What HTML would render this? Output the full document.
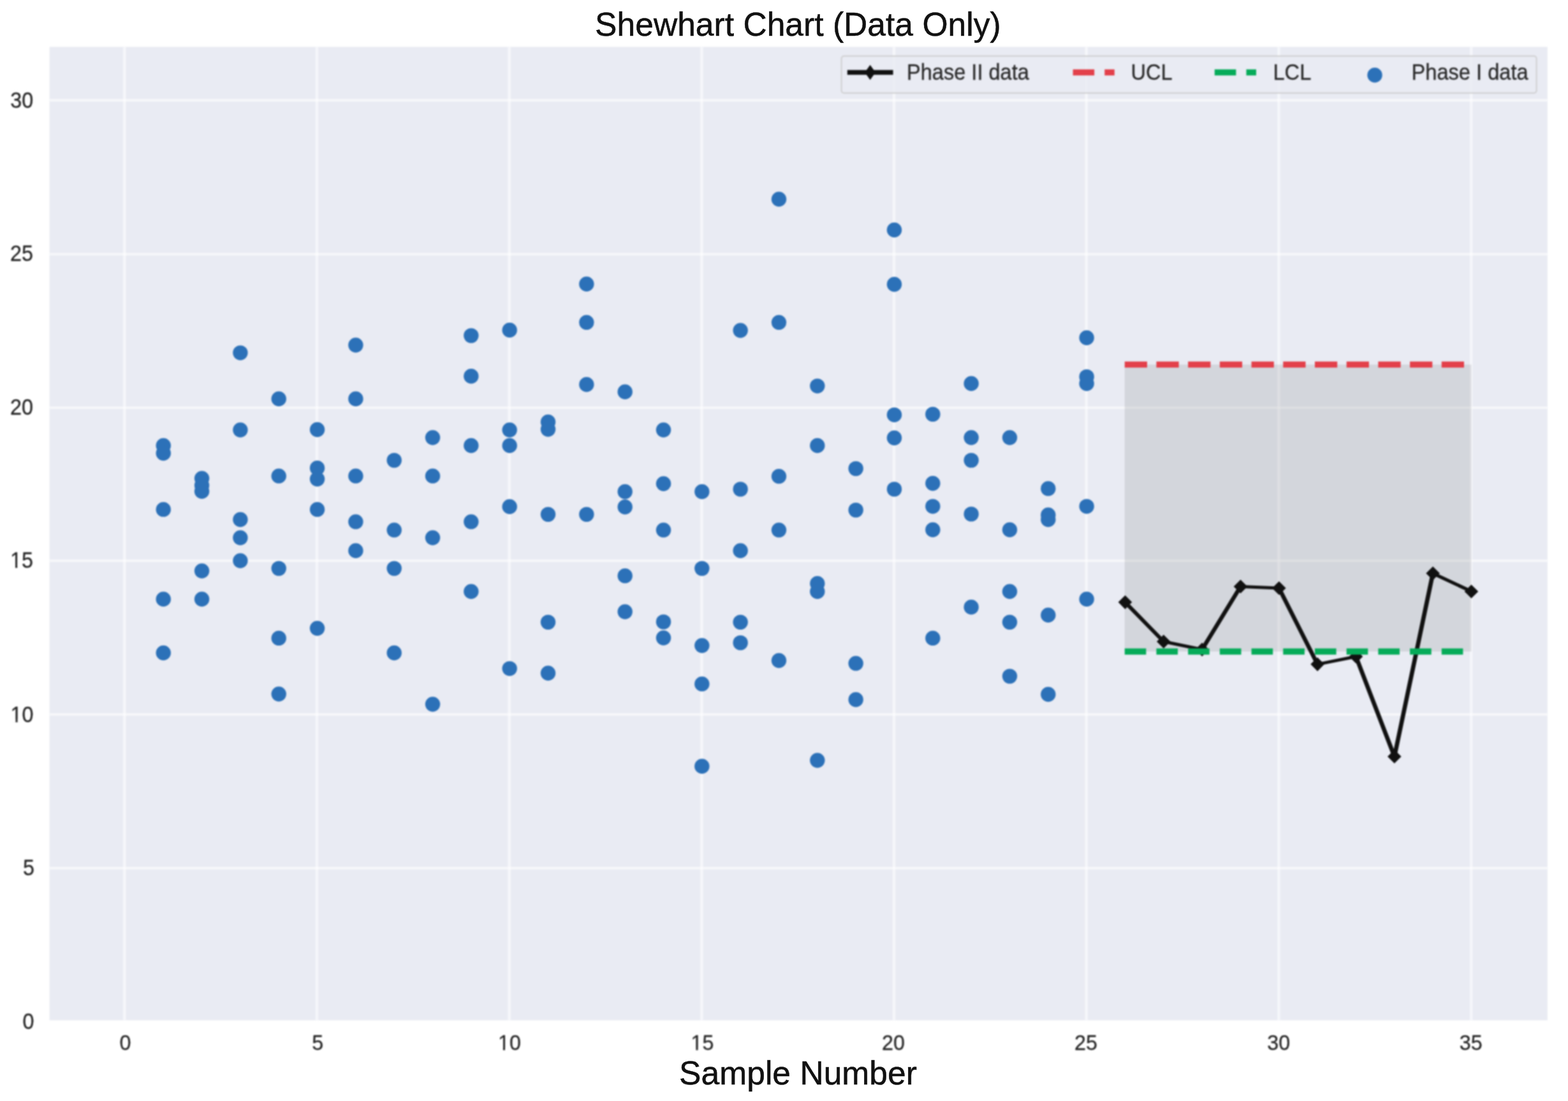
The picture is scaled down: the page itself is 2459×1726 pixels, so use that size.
<!DOCTYPE html>
<html lang="en"><head><meta charset="utf-8">
<title>Shewhart Chart (Data Only)</title>
<style>
html,body{margin:0;padding:0;background:#fff;}
body{width:2459px;height:1726px;overflow:hidden;}
svg{display:block;}
text{font-family:"Liberation Sans",Arial,Helvetica,sans-serif;}
.tk{font-size:32.3px;fill:#262626;stroke:#262626;stroke-width:0.3px;}
.lg{font-size:32.6px;fill:#2a2a2a;stroke:#2a2a2a;stroke-width:0.3px;}
.tt{font-size:51.6px;fill:#111111;stroke:#111111;stroke-width:0.5px;}
</style></head><body>
<svg width="2459" height="1726" viewBox="0 0 2459 1726" role="img" aria-label="Shewhart Chart (Data Only)">
<defs>
<clipPath id="ax"><rect x="77.6" y="73.5" width="2349.30" height="1526.00"/></clipPath>
<filter id="soft" filterUnits="userSpaceOnUse" x="0" y="0" width="2459" height="1726" color-interpolation-filters="sRGB"><feGaussianBlur stdDeviation="1.15 0.85"/></filter>
<filter id="softT" filterUnits="userSpaceOnUse" x="0" y="0" width="2459" height="1726" color-interpolation-filters="sRGB"><feGaussianBlur stdDeviation="0.75"/></filter>
<filter id="softS" filterUnits="userSpaceOnUse" x="0" y="0" width="2459" height="1726" color-interpolation-filters="sRGB"><feGaussianBlur stdDeviation="0.95"/></filter>
</defs>
<rect x="0" y="0" width="2459" height="1726" fill="#ffffff"/>
<g filter="url(#soft)">
<rect x="77.6" y="73.5" width="2349.30" height="1526.00" fill="#e9ebf3"/>
<g clip-path="url(#ax)" stroke="#ffffff" stroke-width="4.6" stroke-opacity="0.56" fill="none">
<line x1="195.25" y1="73.5" x2="195.25" y2="1599.5"/>
<line x1="496.95" y1="73.5" x2="496.95" y2="1599.5"/>
<line x1="798.65" y1="73.5" x2="798.65" y2="1599.5"/>
<line x1="1100.35" y1="73.5" x2="1100.35" y2="1599.5"/>
<line x1="1402.05" y1="73.5" x2="1402.05" y2="1599.5"/>
<line x1="1703.75" y1="73.5" x2="1703.75" y2="1599.5"/>
<line x1="2005.45" y1="73.5" x2="2005.45" y2="1599.5"/>
<line x1="2307.15" y1="73.5" x2="2307.15" y2="1599.5"/>
</g>
<g clip-path="url(#ax)" stroke="#ffffff" stroke-width="4.0" stroke-opacity="0.6" fill="none">
<line x1="77.6" y1="1601.60" x2="2426.9" y2="1601.60"/>
<line x1="77.6" y1="1360.90" x2="2426.9" y2="1360.90"/>
<line x1="77.6" y1="1120.00" x2="2426.9" y2="1120.00"/>
<line x1="77.6" y1="878.90" x2="2426.9" y2="878.90"/>
<line x1="77.6" y1="639.20" x2="2426.9" y2="639.20"/>
<line x1="77.6" y1="398.40" x2="2426.9" y2="398.40"/>
<line x1="77.6" y1="157.30" x2="2426.9" y2="157.30"/>
</g>
<rect x="1763.78" y="571.5" width="543.67" height="449.90" fill="#7b8181" fill-opacity="0.2"/>
<g fill="#2c71b8">
<circle cx="256.23" cy="698.50" r="11.7"/>
<circle cx="256.23" cy="710.54" r="11.7"/>
<circle cx="256.23" cy="798.66" r="11.7"/>
<circle cx="256.23" cy="939.26" r="11.7"/>
<circle cx="256.23" cy="1023.53" r="11.7"/>
<circle cx="316.56" cy="750.02" r="11.7"/>
<circle cx="316.56" cy="761.10" r="11.7"/>
<circle cx="316.56" cy="770.25" r="11.7"/>
<circle cx="316.56" cy="894.96" r="11.7"/>
<circle cx="316.56" cy="939.26" r="11.7"/>
<circle cx="376.89" cy="553.08" r="11.7"/>
<circle cx="376.89" cy="673.94" r="11.7"/>
<circle cx="376.89" cy="814.55" r="11.7"/>
<circle cx="376.89" cy="842.96" r="11.7"/>
<circle cx="376.89" cy="879.07" r="11.7"/>
<circle cx="437.22" cy="625.31" r="11.7"/>
<circle cx="437.22" cy="746.17" r="11.7"/>
<circle cx="437.22" cy="891.11" r="11.7"/>
<circle cx="437.22" cy="1000.41" r="11.7"/>
<circle cx="437.22" cy="1088.05" r="11.7"/>
<circle cx="497.55" cy="673.46" r="11.7"/>
<circle cx="497.55" cy="733.65" r="11.7"/>
<circle cx="497.55" cy="750.99" r="11.7"/>
<circle cx="497.55" cy="798.66" r="11.7"/>
<circle cx="497.55" cy="985.00" r="11.7"/>
<circle cx="557.88" cy="541.04" r="11.7"/>
<circle cx="557.88" cy="625.31" r="11.7"/>
<circle cx="557.88" cy="746.17" r="11.7"/>
<circle cx="557.88" cy="817.92" r="11.7"/>
<circle cx="557.88" cy="863.18" r="11.7"/>
<circle cx="618.21" cy="721.61" r="11.7"/>
<circle cx="618.21" cy="830.92" r="11.7"/>
<circle cx="618.21" cy="891.11" r="11.7"/>
<circle cx="618.21" cy="1023.53" r="11.7"/>
<circle cx="678.54" cy="685.98" r="11.7"/>
<circle cx="678.54" cy="746.17" r="11.7"/>
<circle cx="678.54" cy="842.96" r="11.7"/>
<circle cx="678.54" cy="1103.94" r="11.7"/>
<circle cx="738.87" cy="526.12" r="11.7"/>
<circle cx="738.87" cy="589.68" r="11.7"/>
<circle cx="738.87" cy="698.50" r="11.7"/>
<circle cx="738.87" cy="817.92" r="11.7"/>
<circle cx="738.87" cy="927.22" r="11.7"/>
<circle cx="799.20" cy="517.45" r="11.7"/>
<circle cx="799.20" cy="673.94" r="11.7"/>
<circle cx="799.20" cy="698.50" r="11.7"/>
<circle cx="799.20" cy="794.32" r="11.7"/>
<circle cx="799.20" cy="1048.08" r="11.7"/>
<circle cx="859.53" cy="661.42" r="11.7"/>
<circle cx="859.53" cy="672.98" r="11.7"/>
<circle cx="859.53" cy="806.36" r="11.7"/>
<circle cx="859.53" cy="975.37" r="11.7"/>
<circle cx="859.53" cy="1055.31" r="11.7"/>
<circle cx="919.86" cy="445.22" r="11.7"/>
<circle cx="919.86" cy="505.41" r="11.7"/>
<circle cx="919.86" cy="602.68" r="11.7"/>
<circle cx="919.86" cy="806.36" r="11.7"/>
<circle cx="980.19" cy="614.23" r="11.7"/>
<circle cx="980.19" cy="770.73" r="11.7"/>
<circle cx="980.19" cy="794.80" r="11.7"/>
<circle cx="980.19" cy="902.66" r="11.7"/>
<circle cx="980.19" cy="959.00" r="11.7"/>
<circle cx="1040.52" cy="673.94" r="11.7"/>
<circle cx="1040.52" cy="758.21" r="11.7"/>
<circle cx="1040.52" cy="830.92" r="11.7"/>
<circle cx="1040.52" cy="974.89" r="11.7"/>
<circle cx="1040.52" cy="999.93" r="11.7"/>
<circle cx="1100.85" cy="770.73" r="11.7"/>
<circle cx="1100.85" cy="891.11" r="11.7"/>
<circle cx="1100.85" cy="1011.97" r="11.7"/>
<circle cx="1100.85" cy="1072.16" r="11.7"/>
<circle cx="1100.85" cy="1201.21" r="11.7"/>
<circle cx="1161.18" cy="517.93" r="11.7"/>
<circle cx="1161.18" cy="766.88" r="11.7"/>
<circle cx="1161.18" cy="863.18" r="11.7"/>
<circle cx="1161.18" cy="975.37" r="11.7"/>
<circle cx="1161.18" cy="1007.64" r="11.7"/>
<circle cx="1221.51" cy="312.32" r="11.7"/>
<circle cx="1221.51" cy="505.41" r="11.7"/>
<circle cx="1221.51" cy="746.65" r="11.7"/>
<circle cx="1221.51" cy="830.92" r="11.7"/>
<circle cx="1221.51" cy="1035.56" r="11.7"/>
<circle cx="1281.84" cy="605.09" r="11.7"/>
<circle cx="1281.84" cy="698.50" r="11.7"/>
<circle cx="1281.84" cy="914.70" r="11.7"/>
<circle cx="1281.84" cy="927.22" r="11.7"/>
<circle cx="1281.84" cy="1192.06" r="11.7"/>
<circle cx="1342.17" cy="734.61" r="11.7"/>
<circle cx="1342.17" cy="799.62" r="11.7"/>
<circle cx="1342.17" cy="1039.90" r="11.7"/>
<circle cx="1342.17" cy="1096.72" r="11.7"/>
<circle cx="1402.50" cy="360.47" r="11.7"/>
<circle cx="1402.50" cy="445.70" r="11.7"/>
<circle cx="1402.50" cy="650.35" r="11.7"/>
<circle cx="1402.50" cy="686.46" r="11.7"/>
<circle cx="1402.50" cy="766.88" r="11.7"/>
<circle cx="1462.83" cy="649.38" r="11.7"/>
<circle cx="1462.83" cy="757.73" r="11.7"/>
<circle cx="1462.83" cy="793.84" r="11.7"/>
<circle cx="1462.83" cy="830.44" r="11.7"/>
<circle cx="1462.83" cy="1000.41" r="11.7"/>
<circle cx="1523.16" cy="601.23" r="11.7"/>
<circle cx="1523.16" cy="685.98" r="11.7"/>
<circle cx="1523.16" cy="721.61" r="11.7"/>
<circle cx="1523.16" cy="805.88" r="11.7"/>
<circle cx="1523.16" cy="951.78" r="11.7"/>
<circle cx="1583.49" cy="685.98" r="11.7"/>
<circle cx="1583.49" cy="830.44" r="11.7"/>
<circle cx="1583.49" cy="927.22" r="11.7"/>
<circle cx="1583.49" cy="975.37" r="11.7"/>
<circle cx="1583.49" cy="1060.12" r="11.7"/>
<circle cx="1643.82" cy="765.91" r="11.7"/>
<circle cx="1643.82" cy="807.32" r="11.7"/>
<circle cx="1643.82" cy="814.55" r="11.7"/>
<circle cx="1643.82" cy="964.30" r="11.7"/>
<circle cx="1643.82" cy="1088.53" r="11.7"/>
<circle cx="1704.15" cy="529.49" r="11.7"/>
<circle cx="1704.15" cy="590.64" r="11.7"/>
<circle cx="1704.15" cy="601.23" r="11.7"/>
<circle cx="1704.15" cy="793.84" r="11.7"/>
<circle cx="1704.15" cy="939.26" r="11.7"/>
</g>
<g fill="none" stroke="#111111" stroke-linecap="round">
<line x1="1764.48" y1="944.08" x2="1824.81" y2="1005.71" stroke-width="5.95"/>
<line x1="1824.81" y1="1005.71" x2="1885.14" y2="1018.23" stroke-width="4.99"/>
<line x1="1885.14" y1="1018.23" x2="1945.47" y2="919.52" stroke-width="6.34"/>
<line x1="1945.47" y1="919.52" x2="2005.80" y2="921.93" stroke-width="4.90"/>
<line x1="2005.80" y1="921.93" x2="2066.13" y2="1041.34" stroke-width="6.46"/>
<line x1="2066.13" y1="1041.34" x2="2126.46" y2="1029.30" stroke-width="4.99"/>
<line x1="2126.46" y1="1029.30" x2="2186.79" y2="1186.04" stroke-width="6.59"/>
<line x1="2186.79" y1="1186.04" x2="2247.12" y2="898.81" stroke-width="6.73"/>
<line x1="2247.12" y1="898.81" x2="2307.45" y2="927.22" stroke-width="5.30"/>
</g>
<g fill="#111111">
<path d="M1764.48 933.28L1775.28 944.08L1764.48 954.88L1753.68 944.08Z"/>
<path d="M1824.81 994.91L1835.61 1005.71L1824.81 1016.51L1814.01 1005.71Z"/>
<path d="M1885.14 1007.43L1895.94 1018.23L1885.14 1029.03L1874.34 1018.23Z"/>
<path d="M1945.47 908.72L1956.27 919.52L1945.47 930.32L1934.67 919.52Z"/>
<path d="M2005.80 911.13L2016.60 921.93L2005.80 932.73L1995.00 921.93Z"/>
<path d="M2066.13 1030.54L2076.93 1041.34L2066.13 1052.14L2055.33 1041.34Z"/>
<path d="M2126.46 1018.50L2137.26 1029.30L2126.46 1040.10L2115.66 1029.30Z"/>
<path d="M2186.79 1175.24L2197.59 1186.04L2186.79 1196.84L2175.99 1186.04Z"/>
<path d="M2247.12 888.01L2257.92 898.81L2247.12 909.61L2236.32 898.81Z"/>
<path d="M2307.45 916.42L2318.25 927.22L2307.45 938.02L2296.65 927.22Z"/>
</g>
<line x1="1763.78" y1="571.5" x2="2307.45" y2="571.5" stroke="#e3404a" stroke-width="9.6" stroke-dasharray="35.2 14.5"/>
<line x1="1763.78" y1="1021.4" x2="2307.45" y2="1021.4" stroke="#06ab59" stroke-width="9.6" stroke-dasharray="33.6 16.1"/>
<rect x="1319.6" y="87.8" width="1090.00" height="58.00" rx="4" ry="4" fill="#e9ebf3" fill-opacity="0.8" stroke="#cccccc" stroke-opacity="0.8" stroke-width="2.2"/>
<line x1="1328.8" y1="113.5" x2="1400.6" y2="113.5" stroke="#111111" stroke-width="7.4"/>
<path d="M1364.60 101.70L1373.00 113.50L1364.60 125.30L1356.20 113.50Z" fill="#111111"/>
<line x1="1682.6" y1="113.5" x2="1747.8" y2="113.5" stroke="#e3404a" stroke-width="9.6" stroke-dasharray="33.6 16.1"/>
<line x1="1904.8" y1="113.5" x2="1970.0" y2="113.5" stroke="#06ab59" stroke-width="9.6" stroke-dasharray="33.6 16.1"/>
<circle cx="2156.0" cy="117.8" r="11.7" fill="#2c71b8"/>
</g>
<g filter="url(#softS)">
<text class="lg" transform="translate(1421.9 125.2) scale(1 1.075)">Phase II data</text>
<text class="lg" transform="translate(1773.4 125.2) scale(1 1.075)">UCL</text>
<text class="lg" transform="translate(1996.5 125.2) scale(1 1.075)">LCL</text>
<text class="lg" transform="translate(2213.6 125.2) scale(1 1.075)">Phase I data</text>
<text class="tk" x="196.60" y="1646.4" text-anchor="middle">0</text>
<text class="tk" x="498.25" y="1646.4" text-anchor="middle">5</text>
<text class="tk" x="798.90" y="1646.4" text-anchor="middle">10</text>
<rect x="782.23" y="1642.89" width="6.68" height="4.81" fill="#ffffff"/>
<rect x="792.06" y="1642.89" width="6.63" height="4.81" fill="#ffffff"/>
<text class="tk" x="1101.45" y="1646.4" text-anchor="middle">15</text>
<rect x="1084.78" y="1642.89" width="6.68" height="4.81" fill="#ffffff"/>
<rect x="1094.61" y="1642.89" width="6.63" height="4.81" fill="#ffffff"/>
<text class="tk" x="1401.00" y="1646.4" text-anchor="middle">20</text>
<text class="tk" x="1702.95" y="1646.4" text-anchor="middle">25</text>
<text class="tk" x="2005.20" y="1646.4" text-anchor="middle">30</text>
<text class="tk" x="2306.75" y="1646.4" text-anchor="middle">35</text>
<text class="tk" transform="translate(53.5 1612.95) scale(1 1.06)" text-anchor="end">0</text>
<text class="tk" transform="translate(53.9 1372.29) scale(1 1.06)" text-anchor="end">5</text>
<text class="tk" transform="translate(52.4 1131.63) scale(1 1.06)" text-anchor="end">10</text>
<rect x="17.76" y="1127.97" width="6.68" height="4.96" fill="#ffffff"/>
<rect x="27.60" y="1127.97" width="6.63" height="4.96" fill="#ffffff"/>
<text class="tk" transform="translate(52.0 889.87) scale(1 1.06)" text-anchor="end">15</text>
<rect x="17.36" y="886.21" width="6.68" height="4.96" fill="#ffffff"/>
<rect x="27.20" y="886.21" width="6.63" height="4.96" fill="#ffffff"/>
<text class="tk" transform="translate(51.9 649.61) scale(1 1.06)" text-anchor="end">20</text>
<text class="tk" transform="translate(52.0 409.35) scale(1 1.06)" text-anchor="end">25</text>
<text class="tk" transform="translate(52.1 168.79) scale(1 1.06)" text-anchor="end">30</text>
</g>
<g filter="url(#softT)">
<text class="tt" x="1251.4" y="56.3" text-anchor="middle">Shewhart Chart (Data Only)</text>
<text class="tt" x="1251.5" y="1700.2" text-anchor="middle">Sample Number</text>
</g>
</svg>
</body></html>
